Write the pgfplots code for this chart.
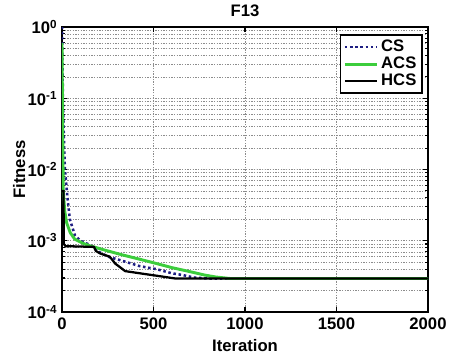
\documentclass[border=0pt]{standalone}
\usepackage{fontspec}
\setmainfont{Liberation Sans}
\usepackage{pgfplots}
\pgfplotsset{compat=1.18}
\definecolor{csblue}{RGB}{30,30,130}
\definecolor{acsgreen}{RGB}{60,205,60}
\definecolor{gridgray}{RGB}{140,140,140}
\newcommand{\ff}{\fontsize{12.5}{14}\selectfont\bfseries}
\begin{document}
\begin{tikzpicture}
\begin{axis}[
  scale only axis,
  width=274.5pt, height=213.75pt,
  xmin=0, xmax=2000, ymin=1e-4, ymax=1,
  ymode=log,
  font=\ff,
  axis line style={line width=1.5pt},
  xtick={0,500,1000,1500,2000},
  xticklabels={0,500,1000,1500,2000},
  ytick={1e-4,1e-3,1e-2,1e-1,1},
  yticklabels={10\textsuperscript{-4},10\textsuperscript{-3},10\textsuperscript{-2},10\textsuperscript{-1},10\textsuperscript{0}},
  xticklabel style={font=\ff, yshift=-1pt},
  yticklabel style={font=\ff},
  tick align=inside,
  major tick length=4pt, minor tick length=2pt,
  tick style={black, line width=0.8pt},
  grid=both,
  major grid style={gridgray, dash pattern=on 1pt off 1pt, line width=0.4pt},
  minor grid style={gridgray, dash pattern=on 1pt off 1pt, line width=0.4pt},
  minor x tick num=0,
  xlabel={Iteration}, ylabel={Fitness},
  xlabel style={at={(axis description cs:0.5,0)}, anchor=north, yshift=-17pt, font=\ff},
  ylabel style={at={(axis description cs:0,0.5)}, anchor=south, yshift=24pt, font=\ff},
  title={F13},
  title style={at={(axis description cs:0.5,1)}, anchor=south, yshift=-2pt, font=\ff},
  legend style={at={(0.985,0.975)}, anchor=north east, draw=black, line width=1.2pt, fill=white,
    font=\ff, inner sep=2pt, row sep=-1.5pt,
    legend cell align=left},
  legend image code/.code={\draw[#1] (0cm,0cm) -- (0.85cm,0cm);},
]
\addplot[csblue, dotted, line width=1.9pt] coordinates {
(0,1.2) (5,0.1) (10,0.03) (16,1e-2) (30,4e-3) (43,2.0e-3) (70,1.2e-3) (100,1.0e-3)
(150,8.8e-4) (200,7.0e-4) (250,6.0e-4) (333,5.2e-4) (425,4.4e-4) (515,4.0e-4)
(600,3.5e-4) (660,3.3e-4) (720,3.05e-4) (800,2.95e-4) (2000,2.95e-4)};
\addlegendentry{CS}
\addplot[acsgreen, line width=2.2pt] coordinates {
(0,0.6) (3,0.05) (7,5e-3) (15,2.6e-3) (25,1.8e-3) (45,1.3e-3) (70,1.05e-3) (115,9.2e-4)
(152,8.5e-4) (250,7.2e-4) (333,6.3e-4) (425,5.5e-4) (515,4.8e-4) (600,4.2e-4)
(696,3.7e-4) (780,3.3e-4) (840,3.1e-4) (920,2.95e-4) (2000,2.95e-4)};
\addlegendentry{ACS}
\addplot[black, line width=1.7pt] coordinates {
(0,5e-3) (8,5e-3) (10,9e-4) (20,8.4e-4) (175,8.2e-4) (185,7.2e-4) (210,6.6e-4)
(260,6.0e-4) (275,5.4e-4) (290,4.8e-4) (320,4.2e-4) (345,3.75e-4) (440,3.45e-4)
(510,3.25e-4) (620,2.95e-4) (2000,2.95e-4)};
\addlegendentry{HCS}
\end{axis}
\pgfresetboundingbox
\path (-46.5pt,-30.75pt) rectangle (309pt,234pt);
\end{tikzpicture}
\end{document}
